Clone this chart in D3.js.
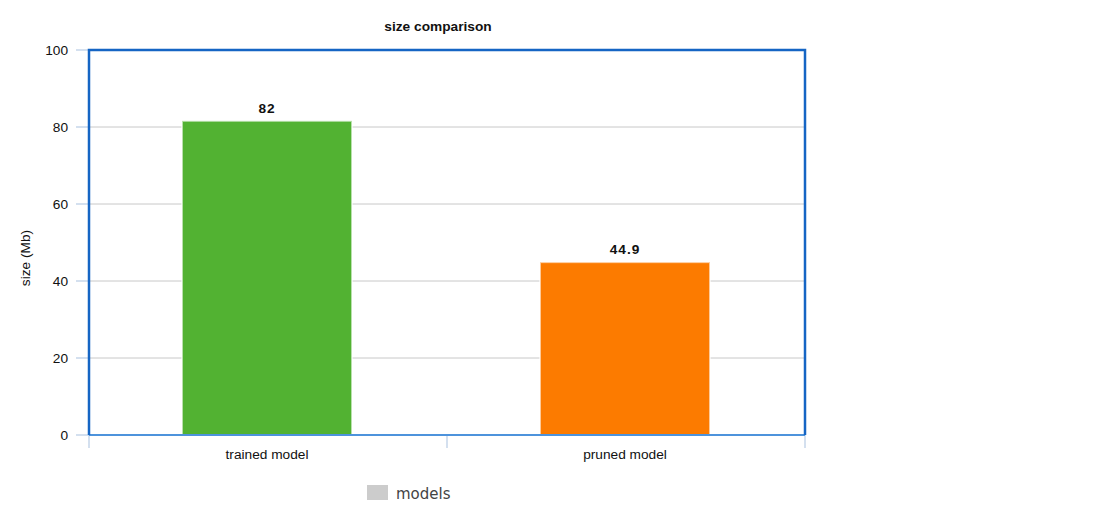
<!DOCTYPE html>
<html><head><meta charset="utf-8">
<script src="https://cdn.jsdelivr.net/npm/d3@7"></script>
<style>body{margin:0;background:#fff;font-family:"Liberation Sans",Arial,sans-serif}</style>
</head><body><svg id="c" width="1104" height="519"></svg>
<script>
const categories = ["trained model", "pruned model"];
const values = [81.6, 44.9];
const valueLabels = ["82", "44.9"];
const barColors = ["#52b232", "#fc7b00"];
const yTicks = [0, 20, 40, 60, 80, 100];
const legendLabel = "models";

const svg = d3.select("#c");
const L = 89, R = 805, T = 50, B = 435;
const x = d3.scaleBand().domain(categories).range([L, R]);
const y = d3.scaleLinear().domain([0, 100]).range([B, T]);
const barW = 170;
const fs = 13.7;

// grid
svg.append("g").selectAll("line").data(yTicks.filter(d => d > 0 && d < 100)).join("line")
  .attr("x1", L).attr("x2", R).attr("y1", d => y(d)).attr("y2", d => y(d))
  .attr("stroke", "#c8c8c8").attr("stroke-width", 1);

// y ticks
svg.append("g").selectAll("line").data(yTicks).join("line")
  .attr("x1", L - 13).attr("x2", L).attr("y1", d => y(d)).attr("y2", d => y(d))
  .attr("stroke", "#c6d6ea").attr("stroke-width", 1.5);
svg.append("g").selectAll("text").data(yTicks).join("text")
  .attr("x", 68).attr("y", d => y(d)).attr("dy", "0.35em").attr("text-anchor", "end")
  .attr("font-size", fs).attr("fill", "#111").text(d => d);

// x ticks
const xTickPos = [L, (L + R) / 2, R];
svg.append("g").selectAll("line").data(xTickPos).join("line")
  .attr("x1", d => d).attr("x2", d => d).attr("y1", B).attr("y2", B + 13)
  .attr("stroke", "#c6d6ea").attr("stroke-width", 1.5);
svg.append("g").selectAll("text").data(categories).join("text")
  .attr("x", d => x(d) + x.bandwidth() / 2 - 1).attr("y", 459).attr("text-anchor", "middle")
  .attr("font-size", fs).attr("fill", "#111").text(d => d);

// bars
svg.append("g").selectAll("rect").data(categories).join("rect")
  .attr("x", d => x(d) + x.bandwidth() / 2 - barW / 2 - 1)
  .attr("y", (d, i) => y(values[i]))
  .attr("width", barW).attr("height", (d, i) => B - y(values[i]))
  .attr("fill", (d, i) => barColors[i])
  .attr("stroke", "rgba(255,255,255,0.6)").attr("stroke-width", 2);

// value labels
svg.append("g").selectAll("text").data(categories).join("text")
  .attr("x", d => x(d) + x.bandwidth() / 2 - 1)
  .attr("y", (d, i) => y(values[i]) - 8).attr("text-anchor", "middle")
  .attr("font-size", fs).attr("font-weight", "bold").attr("letter-spacing", "1px")
  .attr("fill", "#111").text((d, i) => valueLabels[i]);

// frame
svg.append("line").attr("x1", L).attr("x2", R).attr("y1", B).attr("y2", B)
  .attr("stroke", "#4d93dc").attr("stroke-width", 2);
svg.append("path").attr("d", `M${L},${B}V${T}H${R}V${B}`)
  .attr("fill", "none").attr("stroke", "#1565c4").attr("stroke-width", 2.5);

// title
svg.append("text").attr("x", 438).attr("y", 31).attr("text-anchor", "middle")
  .attr("font-size", fs).attr("font-weight", "bold").attr("fill", "#111").text("size comparison");

// y label
svg.append("text").attr("transform", "translate(30,258) rotate(-90)").attr("text-anchor", "middle")
  .attr("font-size", fs).attr("fill", "#111").text("size (Mb)");

// legend
svg.append("rect").attr("x", 367).attr("y", 485).attr("width", 21).attr("height", 15).attr("fill", "#cccccc");
svg.append("text").attr("x", 396).attr("y", 499).attr("font-size", 15).attr("fill", "#444")
  .attr("font-family", "'DejaVu Sans', sans-serif").text(legendLabel);
</script></body></html>
